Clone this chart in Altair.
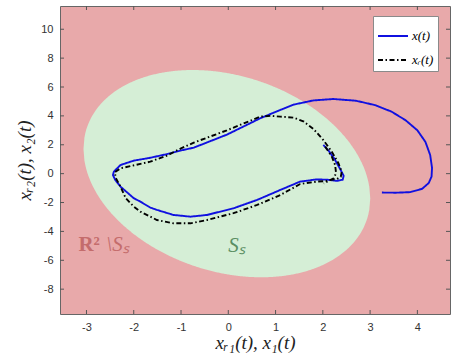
import altair as alt
import numpy as np
import pandas as pd

# ---------------- data ----------------
x_true_x = [3.25, 3.55, 3.85, 4.10, 4.24, 4.30, 4.31, 4.27, 4.17, 4.00, 3.75, 3.45, 3.10,
            2.70, 2.22, 1.80, 1.38, 1.10, 0.68, -0.03, -0.73, -1.01, -1.30, -1.65, -2.00,
            -2.28, -2.42, -2.44, -2.39, -2.28, -2.00, -1.86, -1.65, -1.51, -1.16, -0.80,
            -0.45, 0.11, 0.61, 1.10, 1.52, 1.87, 2.10, 2.30, 2.42, 2.44, 2.37, 2.25, 2.12, 2.01]
x_true_y = [-1.31, -1.32, -1.28, -1.05, -0.65, -0.20, 0.40, 1.30, 2.20, 3.00, 3.70, 4.30, 4.75,
            5.05, 5.17, 5.07, 4.78, 4.41, 3.84, 2.70, 1.80, 1.60, 1.35, 1.10, 0.90,
            0.60, 0.14, -0.10, -0.44, -0.90, -1.70, -1.94, -2.35, -2.51, -2.86, -2.98,
            -2.86, -2.40, -1.82, -1.13, -0.55, -0.40, -0.42, -0.50, -0.42, -0.15, 0.30, 1.00, 1.60, 1.99]

x_ref_x = [2.05, 2.19, 2.26, 2.28, 2.23, 2.12, 1.87, 1.52, 1.10, 0.61, 0.11, -0.45, -0.80,
           -1.16, -1.51, -1.86, -2.00, -2.17, -2.28, -2.38, -2.40, -2.28, -1.65, -1.30,
           -1.00, -0.73, -0.03, 0.68, 0.89, 1.10, 1.38, 1.60, 1.80, 2.01, 2.19, 2.33, 2.40,
           2.38, 2.30, 2.15, 2.02]
x_ref_y = [1.87, 1.18, 0.60, 0.03, -0.32, -0.50, -0.55, -0.72, -1.48, -2.17, -2.74, -3.21, -3.44,
           -3.44, -3.21, -2.63, -2.28, -1.70, -0.90, -0.30, 0.10, 0.37, 0.83, 1.25,
           1.75, 2.15, 3.00, 3.95, 4.00, 3.95, 3.88, 3.60, 3.10, 2.33, 1.52, 0.72, 0.14,
           -0.21, -0.37, -0.45, -0.68]

series_names = ["x(t)", "xᵣ(t)"]
series_colors = ["#1010e0", "#000000"]

# safe set S_s = {x : (x-c)^T Q^{-1} (x-c) <= 1}
ellipse_center = [-0.03, 0.0]
ellipse_Q = [[9.2, -5.2], [-5.2, 51.5]]

x_ticks = [-3, -2, -1, 0, 1, 2, 3, 4]
y_ticks = [-8, -6, -4, -2, 0, 2, 4, 6, 8, 10]
x_domain = [-3.56, 4.69]
y_domain = [-9.72, 11.61]

W, H = 390, 308

# ---------------- tables ----------------
traj = pd.concat([
    pd.DataFrame({"series": series_names[0], "order": range(len(x_true_x)),
                  "x": x_true_x, "y": x_true_y}),
    pd.DataFrame({"series": series_names[1], "order": range(len(x_ref_x)),
                  "x": x_ref_x, "y": x_ref_y}),
])

q11, q12 = ellipse_Q[0]
q22 = ellipse_Q[1][1]
hx = np.sqrt(q11)
u = np.linspace(-1, 1, 301)
ex = ellipse_center[0] + hx * u
mid = ellipse_center[1] + (q12 / q11) * (ex - ellipse_center[0])
half = np.sqrt(q22 - q12 ** 2 / q11) * np.sqrt(np.clip(1 - u ** 2, 0, None))
ell = pd.DataFrame({"x": ex, "y": mid + half, "y2": mid - half})

xs = alt.Scale(domain=x_domain, nice=False, zero=False)
ys = alt.Scale(domain=y_domain, nice=False, zero=False)
xax = alt.Axis(values=x_ticks, title="xᵣ₁(t),   x₁(t)", labelExpr="'' + datum.value",
               labelOverlap=False)
yax = alt.Axis(values=y_ticks, title="xᵣ₂(t),   x₂(t)", labelExpr="'' + datum.value",
               labelOverlap=False)


def X(field):
    return alt.X(field, scale=xs, axis=xax)


def Y(field):
    return alt.Y(field, scale=ys, axis=yax)


ellipse = alt.Chart(ell).mark_area(color="#d5eed6", opacity=1).encode(
    x=X("x:Q"), y=Y("y:Q"), y2="y2:Q",
)

legend = alt.Legend(title=None, orient="none", legendX=313, legendY=10,
                    symbolType="stroke", symbolSize=900, symbolStrokeWidth=2,
                    labelFont="Liberation Serif", labelFontStyle="italic", labelFontSize=13,
                    labelColor="#000", fillColor="white", strokeColor="#8a8a8a",
                    padding=4, rowPadding=1, labelOffset=3)

lines = alt.Chart(traj).mark_line(strokeWidth=1.9).encode(
    x=X("x:Q"), y=Y("y:Q"),
    order="order:Q",
    color=alt.Color("series:N", scale=alt.Scale(domain=series_names, range=series_colors),
                    legend=legend),
    strokeDash=alt.StrokeDash("series:N",
                              scale=alt.Scale(domain=series_names, range=[[1, 0], [5, 2.5, 1.5, 2.5]]),
                              legend=legend),
)

lab = pd.DataFrame({"x": [-3.17, -2.58, 0.0], "y": [-4.94, -4.94, -5.0],
                    "t": ["R²", "\\Sₛ", "Sₛ"]})
t_r = alt.Chart(lab.iloc[[0]]).mark_text(align="left", baseline="middle", font="Liberation Serif",
                                         fontSize=21, fontWeight="bold", color="#c46c6c").encode(
    x=X("x:Q"), y=Y("y:Q"), text="t:N")
t_s = alt.Chart(lab.iloc[[1]]).mark_text(align="left", baseline="middle", font="Liberation Serif",
                                         fontSize=21, fontStyle="italic", color="#c46c6c").encode(
    x=X("x:Q"), y=Y("y:Q"), text="t:N")
t_g = alt.Chart(lab.iloc[[2]]).mark_text(align="left", baseline="middle", font="Liberation Serif",
                                         fontSize=21, fontStyle="italic", color="#5a8f63").encode(
    x=X("x:Q"), y=Y("y:Q"), text="t:N")

# inward ticks on all four sides
xt = pd.DataFrame({"v": x_ticks})
yt = pd.DataFrame({"v": y_ticks})
tick_col = "#555555"
xb = alt.Chart(xt).mark_rule(color=tick_col).encode(
    x=X("v:Q"), y=alt.value(H), y2=alt.value(H - 4))
xtop = alt.Chart(xt).mark_rule(color=tick_col).encode(
    x=X("v:Q"), y=alt.value(0), y2=alt.value(4))
yl = alt.Chart(yt).mark_rule(color=tick_col).encode(
    y=Y("v:Q"), x=alt.value(0), x2=alt.value(4))
yr = alt.Chart(yt).mark_rule(color=tick_col).encode(
    y=Y("v:Q"), x=alt.value(W), x2=alt.value(W - 4))

chart = alt.layer(ellipse, lines, t_r, t_s, t_g, xb, xtop, yl, yr).properties(
    width=W, height=H,
    autosize=alt.AutoSizeParams(type="none"),
    padding={"left": 60, "top": 6, "right": 24, "bottom": 42},
    background="white",
).configure_view(
    fill="#e8a9aa", stroke="#666666", strokeWidth=1,
).configure_axis(
    domain=False, ticks=False, grid=False,
    labelFont="Liberation Sans", labelFontSize=11, labelColor="#333333",
    labelPadding=7,
    titleFont="Liberation Serif", titleFontStyle="italic", titleFontWeight="normal",
    titleFontSize=19, titleColor="#222222",
).configure_axisX(titlePadding=1).configure_axisY(titlePadding=6)

chart.save("out.html", embed_options={"renderer": "svg", "actions": False})
